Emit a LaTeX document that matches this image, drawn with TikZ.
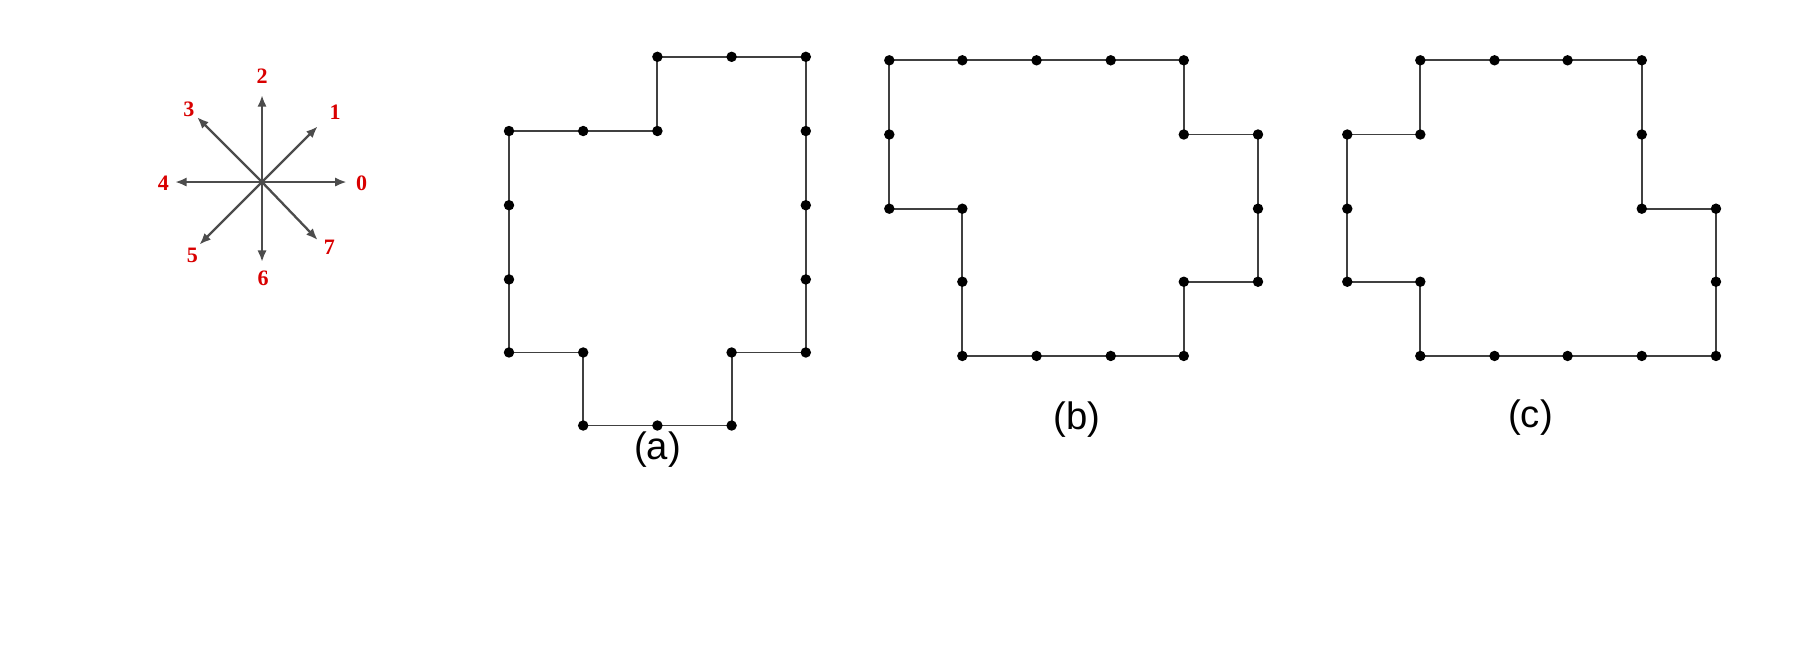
\documentclass[tikz,border=0pt]{standalone}
\usepackage{fontspec}
\setmainfont{Liberation Serif}
\setsansfont{Liberation Sans}
\usetikzlibrary{arrows.meta}
\begin{document}
\begin{tikzpicture}[x=1pt,y=-1pt,
  dot/.style={circle,fill=black,inner sep=0pt,minimum size=9pt},
  edge/.style={draw=black!75,line width=1.6pt},
  arr/.style={draw=black!70,line width=2pt,-{Latex[length=10pt,width=8pt]}},
  dl/.style={text=red!85!black,font=\bfseries\fontsize{19}{20}\selectfont,inner sep=0pt},
  captxt/.style={font=\sffamily\fontsize{33}{34}\selectfont}]
\useasboundingbox (0,0) rectangle (1568,566);
% compass
\coordinate (o) at (226,157);
\foreach \n/\x/\y in {e0/299/157,e1/274/109,e2/226/82,e3/170/101,e4/151/157,e5/172/211,e6/226/226,e7/274/207}
  \draw[arr] (o) -- (\x,\y) coordinate (\n);
\foreach \t/\x/\y in {0/312/158,1/289/97,2/226/66,3/163/94,4/141/158,5/166/220,6/227/240,7/284/213}
  \node[dl] (l\t) at (\x,\y) {\t};
% (a)
\draw[edge] (567,49)--(695,49)--(695,304)--(631,304)--(631,367)--(503,367)--(503,304)--(439,304)--(439,113)--(567,113)--cycle;
\foreach \x/\y [count=\i] in {567/49,631/49,695/49,695/113,695/177,695/241,695/304,631/304,631/367,567/367,503/367,503/304,439/304,439/241,439/177,439/113,503/113,567/113}
  \node[dot] (a\i) at (\x,\y) {};
\node[captxt] (capa) at (567,388) {(a)};
% (b)
\draw[edge] (767,52)--(1021,52)--(1021,116)--(1085,116)--(1085,243)--(1021,243)--(1021,307)--(830,307)--(830,180)--(767,180)--cycle;
\foreach \x/\y [count=\i] in {767/52,830/52,894/52,958/52,1021/52,1021/116,1085/116,1085/180,1085/243,1021/243,1021/307,958/307,894/307,830/307,830/243,830/180,767/180,767/116}
  \node[dot] (b\i) at (\x,\y) {};
\node[captxt] (capb) at (929,362) {(b)};
% (c)
\draw[edge] (1225,52)--(1416,52)--(1416,180)--(1480,180)--(1480,307)--(1225,307)--(1225,243)--(1162,243)--(1162,116)--(1225,116)--cycle;
\foreach \x/\y [count=\i] in {1225/52,1289/52,1352/52,1416/52,1416/116,1416/180,1480/180,1480/243,1480/307,1416/307,1352/307,1289/307,1225/307,1225/243,1162/243,1162/180,1162/116,1225/116}
  \node[dot] (c\i) at (\x,\y) {};
\node[captxt] (capc) at (1320,360) {(c)};
\end{tikzpicture}
\end{document}
